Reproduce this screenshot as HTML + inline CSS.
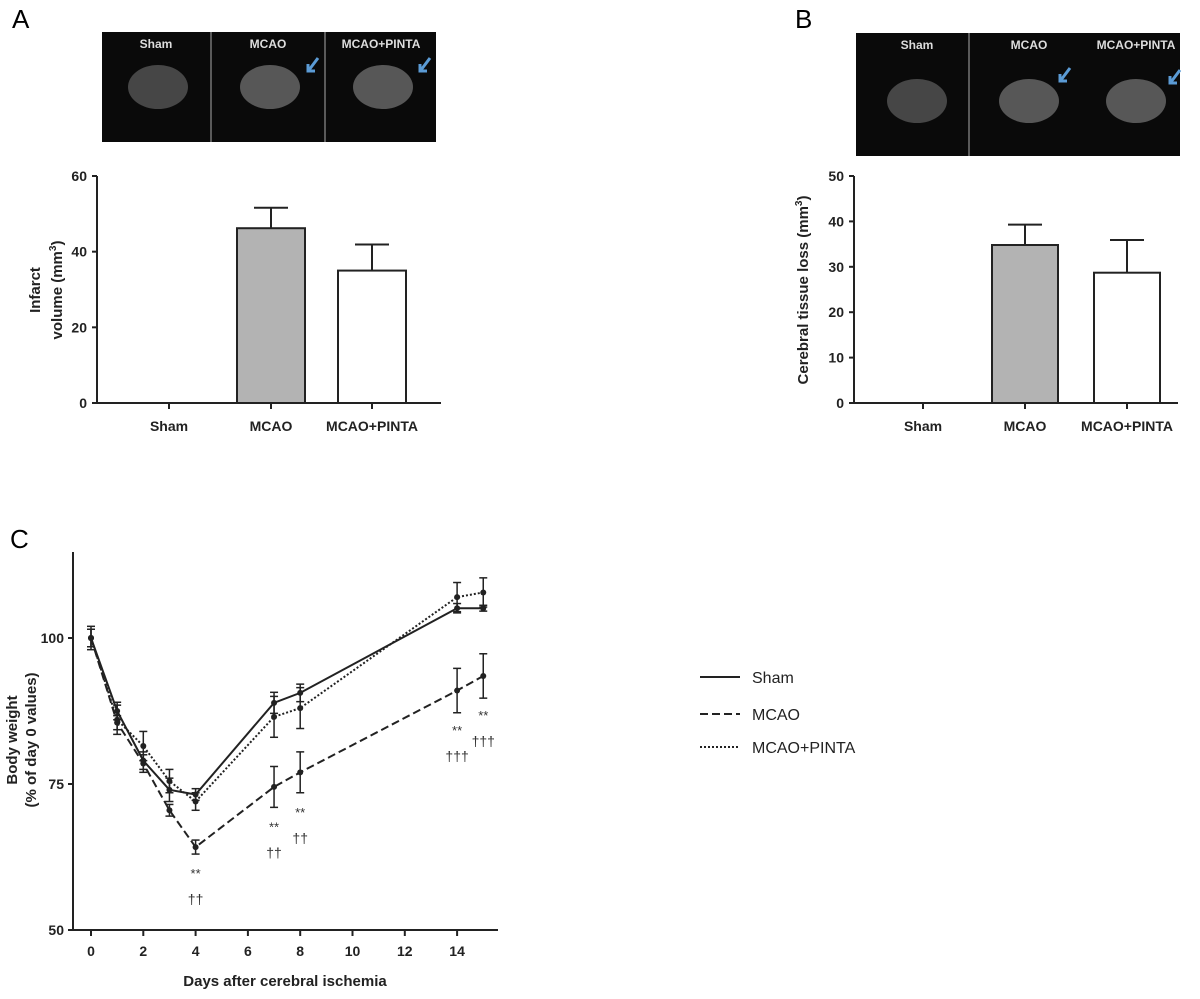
<!DOCTYPE html>
<html><head><meta charset="utf-8"><style>
body{margin:0;background:#fff;width:1200px;height:994px;overflow:hidden;font-family:"Liberation Sans",Arial,sans-serif}
svg text{font-family:"Liberation Sans",Arial,sans-serif}
</style></head><body>
<svg id="s" width="1200" height="994" viewBox="0 0 1200 994" xmlns="http://www.w3.org/2000/svg">
<text x="12" y="28" font-size="26">A</text>
<text x="795" y="28" font-size="26">B</text>
<text x="10" y="548" font-size="26">C</text>
<g id="imgs"></g>
<g id="pa"></g>
<g id="pb"></g>
<g id="pc"></g>
</svg>
<script>
const NS="http://www.w3.org/2000/svg";
function mk(p,t,a,txt){const e=document.createElementNS(NS,t);for(const k in a)e.setAttribute(k,a[k]);if(txt!==undefined)e.textContent=txt;p.appendChild(e);return e;}

// Bar data
const barCats=["Sham","MCAO","MCAO+PINTA"];
const infarctVals=[0,46.2,35.0];
const infarctErr=[0,5.4,6.9];
const lossVals=[0,34.8,28.7];
const lossErr=[0,4.5,7.2];
const barFills=["#fff","#b3b3b3","#fff"];

// Line data
const days=[0,1,2,3,4,7,8,14,15];
const shamVals=[100,87.5,79,74,73.2,88.9,90.6,105.1,105.1];
const shamErr=[1.5,1.5,1.5,2,1,1.8,1.5,0.8,0.5];
const mcaoVals=[100,85.5,78.5,70.5,64.2,74.5,77.0,91.0,93.5];
const mcaoErr=[1.5,1.2,1.5,1,1.2,3.5,3.5,3.8,3.8];
const pintaVals=[100,86,81.5,75.5,72.0,86.5,88.0,107,107.8];
const pintaErr=[2,2.5,2.5,2,1.5,3.5,3.5,2.5,2.5];
const yTicksC=[50,75,100];
const xTicksC=[0,2,4,6,8,10,12,14];
const annDays=[4,7,8,14,15];
const annStars=["**","**","**","**","**"];
const annDaggers=["††","††","††","†††","†††"];

// MRI image strips
(function(){
  const g=document.getElementById('imgs');
  const sets=[{x:102,y:32,w:334,h:110,div:[211,325],labels:[[156,"Sham"],[268,"MCAO"],[381,"MCAO+PINTA"]],arrows:[[318,70],[430,70]],name:'panel-a-mri'},
              {x:856,y:33,w:324,h:123,div:[969],labels:[[917,"Sham"],[1029,"MCAO"],[1136,"MCAO+PINTA"]],arrows:[[1070,80],[1180,82]],name:'panel-b-mri'}];
  sets.forEach((s,i)=>{
    const gg=mk(g,'g',{});
    
    
    mk(gg,'rect',{x:s.x,y:s.y,width:s.w,height:s.h,fill:'#0a0a0a'});
    s.div.forEach(d=>mk(gg,'line',{x1:d,x2:d,y1:s.y,y2:s.y+s.h,stroke:'#aaa','stroke-width':1}));
    s.labels.forEach(l=>{
      mk(gg,'ellipse',{cx:l[0]+(i==0?2:0),cy:s.y+(i==0?55:68),rx:30,ry:22,fill:l[1]=="Sham"?'#555':'#6a6a6a',opacity:0.8});
      mk(gg,'text',{x:l[0],y:s.y+16,'font-size':12,'font-weight':'bold',fill:'#ddd','text-anchor':'middle'},l[1]);
    });
    s.arrows.forEach(a=>mk(gg,'path',{d:`M${a[0]} ${a[1]-12} L${a[0]-9} ${a[1]} M${a[0]-10} ${a[1]-6} L${a[0]-10} ${a[1]+1} L${a[0]-3} ${a[1]+1}`,stroke:'#5b9bd5','stroke-width':3,fill:'none'}));
  });
})();

function barChart(gid,ax,ay0,ay1,ymax,step,xend,ticksX,barW,vals,errs,ylab){
  const g=document.getElementById(gid);
  const y=v=>ay0-(v/ymax)*(ay0-ay1);
  mk(g,'line',{x1:ax,x2:ax,y1:ay1,y2:ay0,stroke:'#222','stroke-width':2});
  mk(g,'line',{x1:ax,x2:xend,y1:ay0,y2:ay0,stroke:'#222','stroke-width':2});
  for(let v=0;v<=ymax;v+=step){
    mk(g,'line',{x1:ax-5,x2:ax,y1:y(v),y2:y(v),stroke:'#222','stroke-width':2});
    const t=mk(g,'text',{x:ax-10,y:y(v)+5,'font-size':14,'font-weight':'bold','text-anchor':'end',fill:'#222'},v);
    
    
  }
  barCats.forEach((c,i)=>{
    const cx=ticksX[i];
    mk(g,'line',{x1:cx,x2:cx,y1:ay0,y2:ay0+6,stroke:'#222','stroke-width':2});
    const t=mk(g,'text',{x:cx,y:ay0+28,'font-size':14,'font-weight':'bold','text-anchor':'middle',fill:'#222'},c);
    
    
    if(vals[i]>0){
      const r=mk(g,'rect',{x:cx-barW/2,y:y(vals[i]),width:barW,height:ay0-y(vals[i]),fill:barFills[i],stroke:'#222','stroke-width':2});
      
      
      const ey=y(vals[i]+errs[i]);
      mk(g,'line',{x1:cx,x2:cx,y1:y(vals[i]),y2:ey,stroke:'#222','stroke-width':2});
      mk(g,'line',{x1:cx-17,x2:cx+17,y1:ey,y2:ey,stroke:'#222','stroke-width':2});
    }
  });
  return g;
}
const ga=barChart('pa',97,403,176,60,20,441,[169,271,372],68,infarctVals,infarctErr);
let t=mk(ga,'text',{transform:'translate(40,290) rotate(-90)','font-size':15,'font-weight':'bold','text-anchor':'middle',fill:'#222'},'Infarct');

t=mk(ga,'text',{transform:'translate(62,290) rotate(-90)','font-size':15,'font-weight':'bold','text-anchor':'middle',fill:'#222'});
t.innerHTML='volume (mm<tspan dy="-6" font-size="10">3</tspan><tspan dy="6">)</tspan>';
const gb=barChart('pb',854,403,176,50,10,1178,[923,1025,1127],66,lossVals,lossErr);
t=mk(gb,'text',{transform:'translate(808,290) rotate(-90)','font-size':15,'font-weight':'bold','text-anchor':'middle',fill:'#222'});
t.innerHTML='Cerebral tissue loss (mm<tspan dy="-6" font-size="10">3</tspan><tspan dy="6">)</tspan>';


// Panel C
(function(){
  const g=document.getElementById('pc');
  const X=d=>91+d*26.15, Y=v=>930-(v-50)/25*146;
  mk(g,'line',{x1:73,x2:73,y1:552,y2:930,stroke:'#222','stroke-width':2});
  mk(g,'line',{x1:73,x2:498,y1:930,y2:930,stroke:'#222','stroke-width':2});
  yTicksC.forEach(v=>{
    mk(g,'line',{x1:68,x2:73,y1:Y(v),y2:Y(v),stroke:'#222','stroke-width':2});
    const t=mk(g,'text',{x:64,y:Y(v)+5,'font-size':14,'font-weight':'bold','text-anchor':'end',fill:'#222'},v);
    
  });
  xTicksC.forEach(d=>{
    mk(g,'line',{x1:X(d),x2:X(d),y1:930,y2:936,stroke:'#222','stroke-width':2});
    const t=mk(g,'text',{x:X(d),y:956,'font-size':14,'font-weight':'bold','text-anchor':'middle',fill:'#222'},d);
    
  });
  t=mk(g,'text',{x:285,y:986,'font-size':15,'font-weight':'bold','text-anchor':'middle',fill:'#222'},'Days after cerebral ischemia');
  
  t=mk(g,'text',{transform:'translate(17,740) rotate(-90)','font-size':15,'font-weight':'bold','text-anchor':'middle',fill:'#222'},'Body weight');
  
  t=mk(g,'text',{transform:'translate(36,740) rotate(-90)','font-size':15,'font-weight':'bold','text-anchor':'middle',fill:'#222'},'(% of day 0 values)');
  const series=[[shamVals,shamErr,'none','sham'],[mcaoVals,mcaoErr,'8 4','mcao'],[pintaVals,pintaErr,'2 2','mcao-pinta']];
  series.forEach(s=>{
    const p=mk(g,'polyline',{points:days.map((d,i)=>X(d)+','+Y(s[0][i])).join(' '),fill:'none',stroke:'#222','stroke-width':2,'stroke-dasharray':s[2]});
    
    days.forEach((d,i)=>{
      const x=X(d),v=s[0][i],e=s[1][i];
      mk(g,'line',{x1:x,x2:x,y1:Y(v+e),y2:Y(v-e),stroke:'#222','stroke-width':1.5});
      mk(g,'line',{x1:x-4,x2:x+4,y1:Y(v+e),y2:Y(v+e),stroke:'#222','stroke-width':1.5});
      mk(g,'line',{x1:x-4,x2:x+4,y1:Y(v-e),y2:Y(v-e),stroke:'#222','stroke-width':1.5});
      const c=mk(g,'circle',{cx:x,cy:Y(v),r:3,fill:'#222'});
      
    });
  });
  annDays.forEach((d,i)=>{
    const idx=days.indexOf(d);
    const base=Y(mcaoVals[idx]-mcaoErr[idx])+ (d>=14? -0:0);
    const yy=d>=14?Y(mcaoVals[idx]-mcaoErr[idx])+22:Y(mcaoVals[idx]-mcaoErr[idx])+24;
    mk(g,'text',{x:X(d),y:yy,'font-size':13,'text-anchor':'middle',fill:'#333'},annStars[i]);
    mk(g,'text',{x:X(d),y:yy+26,'font-size':14,'text-anchor':'middle',fill:'#333'},annDaggers[i]);
  });
  const leg=[['Sham','none',677],['MCAO','8 4',714],['MCAO+PINTA','2 2',747]];
  leg.forEach(l=>{
    const lg=mk(g,'g',{});
    
    mk(lg,'line',{x1:700,x2:740,y1:l[2],y2:l[2],stroke:'#222','stroke-width':2,'stroke-dasharray':l[1]});
    mk(lg,'text',{x:752,y:l[2]+6,'font-size':16,fill:'#222'},l[0]);
  });
})();
</script>
</body></html>
